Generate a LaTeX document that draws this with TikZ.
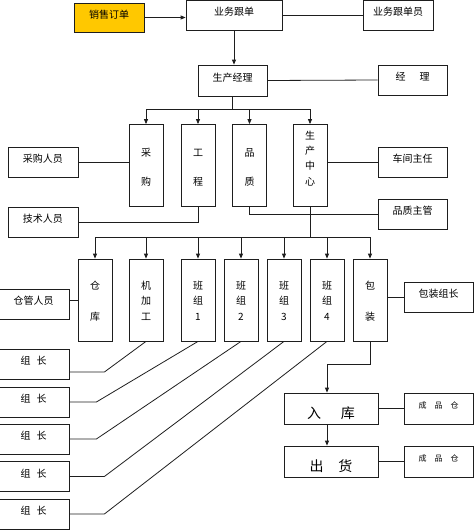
\documentclass[tikz,border=0pt]{standalone}
\usepackage{fontspec}
\newfontfamily\cjk{Noto Sans CJK SC}
\usetikzlibrary{arrows.meta}
\definecolor{salesyellow}{RGB}{255,200,0}
\definecolor{ink}{RGB}{30,30,30}
\newcommand\colstk[3]{\raisebox{0pt}[#2][0pt]{\vbox{\baselineskip=#1\lineskiplimit=-100pt\lineskip=0pt\halign{\hfil##\hfil\cr#3}}}}
\tikzset{
  box/.style={draw=ink, line width=0.8pt, inner sep=0pt, font=\cjk\fontsize{10}{12}\selectfont, text height=6.5pt, text depth=5.5pt},
  colbox/.style={draw=ink, line width=0.8pt, inner sep=0pt, minimum width=34pt, minimum height=82pt, font=\cjk\fontsize{10}{12}\selectfont},
  bigbox/.style={draw=ink, line width=0.8pt, inner sep=0pt, minimum width=94pt, minimum height=31pt, font=\cjk\fontsize{14}{16}\selectfont, text height=20pt, text depth=0pt},
  smallbox/.style={draw=ink, line width=0.8pt, inner sep=0pt, minimum width=69pt, minimum height=31pt, font=\cjk\fontsize{8}{10}\selectfont, text height=5pt, text depth=5pt},
  wire/.style={line width=0.8pt, draw=ink},
  arr/.style={wire, -{Triangle[length=5pt,width=4pt]}},
}
\begin{document}
\begin{tikzpicture}[x=1pt,y=-1pt]
\useasboundingbox (0,0) rectangle (474,530);
\clip (0,0) rectangle (474,530);
% top
\node[box, fill=salesyellow, minimum width=70pt, minimum height=29pt] (xs) at (109,17.5) {销售订单};
\node[box, minimum width=96pt, minimum height=29.5pt] (ywgd) at (234,15.25) {业务跟单};
\node[box, minimum width=70pt, minimum height=29.5pt] (ywgdy) at (398,15.25) {业务跟单员};
\node[box, minimum width=69pt, minimum height=31pt] (scjl) at (232.5,80.5) {生产经理};
\node[box, minimum width=69pt, minimum height=30pt] (jl) at (412.5,80) {经\hspace{14pt}理};
% departments
\node[colbox] (cg) at (146,165.5) {\colstk{29pt}{39pt}{采\cr 购\cr}};
\node[colbox] (gc) at (198,165.5) {\colstk{29pt}{39pt}{工\cr 程\cr}};
\node[colbox] (pz) at (249.5,165.5) {\colstk{29pt}{39pt}{品\cr 质\cr}};
\node[colbox] (sczx) at (310,165.5) {\colstk{15.3pt}{39pt}{生\cr 产\cr 中\cr 心\cr}};
\node[box, minimum width=70pt, minimum height=30pt] (cgry) at (43,162) {采购人员};
\node[box, minimum width=70pt, minimum height=30pt] (jsry) at (43,222) {技术人员};
\node[box, minimum width=69pt, minimum height=30pt] (cjzr) at (412.5,162) {车间主任};
\node[box, minimum width=69pt, minimum height=30pt] (pzzg) at (412.5,214) {品质主管};
% workshops
\node[colbox] (ck) at (95,300) {\colstk{31pt}{40pt}{仓\cr 库\cr}};
\node[colbox] (jjg) at (146,300) {\colstk{15.5pt}{40pt}{机\cr 加\cr 工\cr}};
\node[colbox] (bz1) at (198,300) {\colstk{15.5pt}{40pt}{班\cr 组\cr 1\cr}};
\node[colbox] (bz2) at (241,300) {\colstk{15.5pt}{40pt}{班\cr 组\cr 2\cr}};
\node[colbox] (bz3) at (284,300) {\colstk{15.5pt}{40pt}{班\cr 组\cr 3\cr}};
\node[colbox] (bz4) at (327,300) {\colstk{15.5pt}{40pt}{班\cr 组\cr 4\cr}};
\node[colbox] (bzh) at (370,300) {\colstk{31pt}{40pt}{包\cr 装\cr}};
\node[box, minimum width=71pt, minimum height=30pt] (cgry2) at (33.5,304) {仓管人员};
\node[box, minimum width=69pt, minimum height=30pt] (bzzz) at (438.5,297) {包装组长};
\node[box, minimum width=71pt, minimum height=30pt] (zz1) at (33.5,364) {组\hspace{6pt}长};
\node[box, minimum width=71pt, minimum height=30pt] (zz2) at (33.5,402) {组\hspace{6pt}长};
\node[box, minimum width=71pt, minimum height=30pt] (zz3) at (33.5,439) {组\hspace{6pt}长};
\node[box, minimum width=71pt, minimum height=30pt] (zz4) at (33.5,476.5) {组\hspace{6pt}长};
\node[box, minimum width=71pt, minimum height=30pt] (zz5) at (33.5,514) {组\hspace{6pt}长};
\node[bigbox] (rk) at (331,408.5) {入\hspace{20pt}库};
\node[bigbox] (ch) at (331,461.5) {出\hspace{15pt}货};
\node[smallbox] (cpc1) at (438.5,408.5) {成\hspace{8pt}品\hspace{8pt}仓};
\node[smallbox] (cpc2) at (438.5,461.5) {成\hspace{8pt}品\hspace{8pt}仓};
% connectors
\draw[arr] (xs.east) -- (xs.east -| ywgd.west);
\draw[wire] (ywgd.east) -- (ywgdy.west);
\draw[arr] (ywgd.south) -- (ywgd.south |- scjl.north);
\draw[wire] (scjl.east) -- (jl.west);
\coordinate (b1) at (232.5,109);
\draw[wire] (scjl.south) -- (b1);
\draw[wire] (cg.north |- b1) -- (sczx.north |- b1);
\foreach \nn in {cg,gc,pz,sczx} \draw[arr] (\nn.north |- b1) -- (\nn.north);
\draw[wire] (cgry.east) -- (cgry.east -| cg.west);
\draw[wire] (jsry.east) -| (gc.south);
\draw[wire] (sczx.east |- cjzr.west) -- (cjzr.west);
\draw[wire] (pz.south) |- (pzzg.west);
\coordinate (b2) at (310,237);
\draw[wire] (sczx.south) -- (b2);
\draw[wire] (ck.north |- b2) -- (bzh.north |- b2);
\foreach \nn in {ck,jjg,bz1,bz2,bz3,bz4,bzh} \draw[arr] (\nn.north |- b2) -- (\nn.north);
\draw[wire] (cgry2.east |- ck.west) -- (ck.west);
\draw[wire] (bzh.east |- bzzz.west) -- (bzzz.west);
\draw[wire] ([yshift=-8pt]zz1.east) -- ++(35,0) -- (jjg.south);
\draw[wire] (zz2.east) -- ++(27,0) -- (bz1.south);
\draw[wire] (zz3.east) -- ++(27,0) -- (bz2.south);
\draw[wire] (zz4.east) -- ++(35,0) -- (bz3.south);
\draw[wire] (zz5.east) -- ++(35,0) -- (bz4.south);
\coordinate (b3) at (327,364);
\draw[arr] (bzh.south) |- (b3) -- (b3 |- rk.north);
\draw[arr] (b3 |- rk.south) -- (b3 |- ch.north);
\draw[wire] (rk.east) -- (cpc1.west);
\draw[wire] (ch.east) -- (cpc2.west);
\end{tikzpicture}
\end{document}
